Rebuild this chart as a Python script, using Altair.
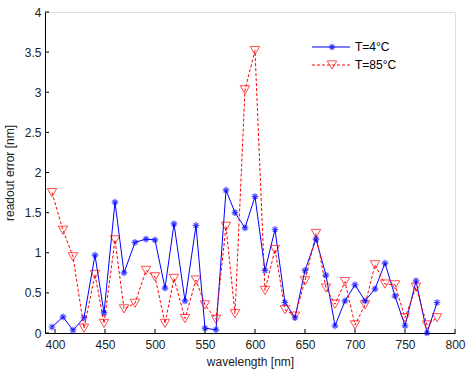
import altair as alt
import pandas as pd

wavelength = [397, 408, 418, 429, 440, 449, 460, 469, 480, 491, 500, 510, 519, 530,
              541, 550, 561, 571, 580, 590, 600, 610, 620, 630, 640, 650, 661, 671,
              680, 690, 700, 710, 720, 730, 740, 750, 761, 772, 782]
err_4c = [0.075, 0.20, 0.035, 0.19, 0.97, 0.25, 1.63, 0.75, 1.13, 1.17, 1.16, 0.56, 1.36, 0.40,
          1.34, 0.06, 0.04, 1.78, 1.50, 1.31, 1.70, 0.78, 1.29, 0.38, 0.19, 0.78, 1.17, 0.72,
          0.09, 0.40, 0.60, 0.40, 0.55, 0.87, 0.46, 0.09, 0.65, 0.0, 0.38]
err_85c = [1.75, 1.28, 0.95, 0.06, 0.73, 0.12, 1.16, 0.30, 0.37, 0.78, 0.70, 0.12, 0.68, 0.18,
           0.66, 0.35, 0.17, 1.33, 0.24, 3.03, 3.52, 0.53, 1.04, 0.29, 0.21, 0.65, 1.24, 0.56,
           0.36, 0.64, 0.10, 0.35, 0.85, 0.61, 0.60, 0.19, 0.57, 0.10, 0.19]
x_ticks = [400, 450, 500, 550, 600, 650, 700, 750, 800]
y_ticks = [0, 0.5, 1, 1.5, 2, 2.5, 3, 3.5, 4]

W, H = 410, 321
FONT = "Liberation Sans"
BLUE = "#0000FF"
RED = "#FF0000"
ASTERISK = "M -1 0 L 1 0 M 0 -1 L 0 1 M -0.7 -0.7 L 0.7 0.7 M -0.7 0.7 L 0.7 -0.7"

df4 = pd.DataFrame({"wavelength": wavelength, "err": err_4c})
df85 = pd.DataFrame({"wavelength": wavelength, "err": err_85c})

xs = alt.Scale(domain=[390, 800], nice=False, zero=False)
ys = alt.Scale(domain=[0, 4], nice=False)

xaxis = alt.Axis(values=x_ticks, title="wavelength [nm]", tickSize=0, grid=False,
                 labelPadding=6, titlePadding=6, labelFontSize=12, titleFontSize=12,
                 labelFont=FONT, titleFont=FONT, labelColor="#222", titleColor="#222",
                 domainColor="black", titleFontWeight="normal", labelFlush=False,
                 format="d")
yaxis = alt.Axis(values=y_ticks, title="readout error [nm]", tickSize=0, grid=False,
                 labelPadding=4, titlePadding=8, labelFontSize=12, titleFontSize=12,
                 labelFont=FONT, titleFont=FONT, labelColor="#222", titleColor="#222",
                 domainColor="black", titleFontWeight="normal", labelFlush=False,
                 format=".1~f")

base_x = alt.X("wavelength:Q", scale=xs, axis=xaxis)
base_y = alt.Y("err:Q", scale=ys, axis=yaxis)

line4 = alt.Chart(df4).mark_line(color=BLUE, strokeWidth=1).encode(x=base_x, y=base_y)
pts4 = alt.Chart(df4).mark_point(shape=ASTERISK, color=BLUE, filled=False, size=45,
                                 strokeWidth=1.2).encode(x="wavelength:Q", y="err:Q")
line85 = alt.Chart(df85).mark_line(color=RED, strokeWidth=1, strokeDash=[3, 2]).encode(
    x="wavelength:Q", y="err:Q")
pts85 = alt.Chart(df85).mark_point(shape="triangle-down", color=RED, filled=False, size=90,
                                   strokeWidth=1).encode(x="wavelength:Q", y="err:Q")

xt = alt.Chart(pd.DataFrame({"t": x_ticks})).mark_rule(color="black", strokeWidth=1).encode(
    x=alt.X("t:Q", scale=xs), y=alt.value(H), y2=alt.value(H - 4))
yt = alt.Chart(pd.DataFrame({"t": y_ticks})).mark_rule(color="black", strokeWidth=1).encode(
    y=alt.Y("t:Q", scale=ys), x=alt.value(0), x2=alt.value(4))

one = pd.DataFrame({"a": [0]})
lg1_line = alt.Chart(one).mark_rule(color=BLUE, strokeWidth=1).encode(
    x=alt.value(267), x2=alt.value(305), y=alt.value(35))
lg1_pt = alt.Chart(one).mark_point(shape=ASTERISK, color=BLUE, filled=False, size=45,
                                   strokeWidth=1.2).encode(x=alt.value(287), y=alt.value(35))
lg1_txt = alt.Chart(one).mark_text(text="T=4°C", align="left", baseline="middle",
                                   font=FONT, fontSize=12, color="black").encode(
    x=alt.value(310), y=alt.value(35))
lg2_line = alt.Chart(one).mark_rule(color=RED, strokeWidth=1, strokeDash=[3, 2]).encode(
    x=alt.value(267), x2=alt.value(305), y=alt.value(53))
lg2_pt = alt.Chart(one).mark_point(shape="triangle-down", color=RED, filled=False, size=90,
                                   strokeWidth=1).encode(x=alt.value(287), y=alt.value(53))
lg2_txt = alt.Chart(one).mark_text(text="T=85°C", align="left", baseline="middle",
                                   font=FONT, fontSize=12, color="black").encode(
    x=alt.value(310), y=alt.value(53))

chart = alt.layer(line4, line85, pts85, pts4, xt, yt,
                  lg1_line, lg1_pt, lg1_txt, lg2_line, lg2_pt, lg2_txt).properties(
    width=W, height=H,
    autosize=alt.AutoSizeParams(type="none"),
    padding={"left": 45, "top": 12, "right": 19, "bottom": 44},
).configure_view(stroke=None).configure(background="white")

chart.save("out.html", embed_options={"renderer": "svg", "actions": False})
